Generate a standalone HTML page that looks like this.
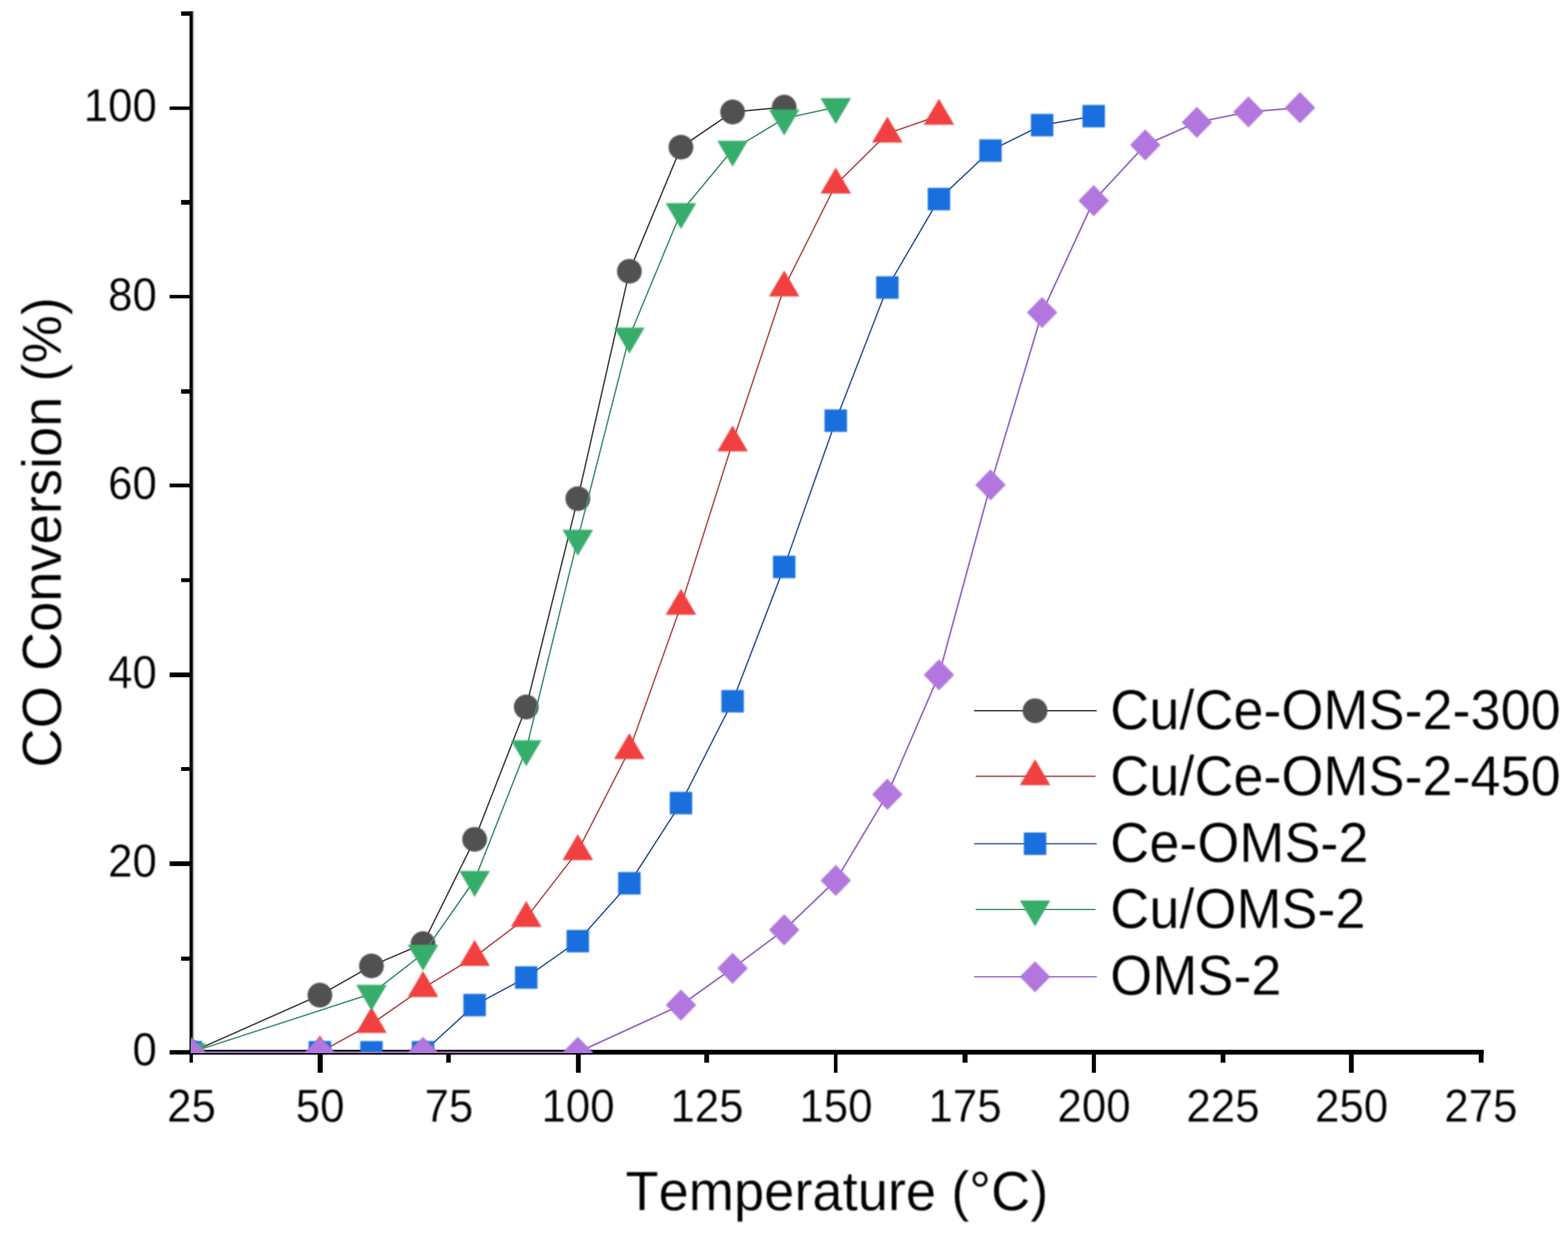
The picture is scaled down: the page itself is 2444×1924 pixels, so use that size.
<!DOCTYPE html>
<html lang="en"><head><meta charset="utf-8"><title>CO Conversion vs Temperature</title>
<style>
html,body{margin:0;padding:0;background:#fff;}
body{width:2444px;height:1924px;overflow:hidden;}
svg{display:block;}
text{font-family:"Liberation Sans",Arial,Helvetica,sans-serif;fill:#000;stroke:#fff;stroke-width:0.3px;paint-order:fill stroke;font-kerning:none;font-variant-ligatures:none;text-rendering:geometricPrecision;}
.soft{filter:blur(0.8px);}
.tick{font-size:70px;}
.big{font-size:84.6px;}
</style></head><body>
<svg width="2444" height="1924" viewBox="0 0 2444 1924">
<rect x="0" y="0" width="2444" height="1924" fill="#ffffff"/>
<defs><clipPath id="plot"><rect x="297.5" y="17.5" width="2011" height="1624.6"/></clipPath>
</defs>
<g id="chart">
<g id="axes" fill="#000">
<rect x="295.4" y="17.5" width="5.3" height="1639.3"/>
<rect x="300.7" y="17.5" width="2.1" height="1619.3" fill="#bdbdbd"/>
<rect x="295.4" y="1636.8" width="2017.2" height="7.5"/>
<rect x="264.4" y="1637.3" width="31.6" height="6.9"/>
<rect x="282.3" y="1491.5" width="13.7" height="6.4"/>
<rect x="264.4" y="1342.9" width="31.6" height="7.4"/>
<rect x="282.3" y="1196.0" width="13.7" height="5.9"/>
<rect x="264.4" y="1048.5" width="31.6" height="7.4"/>
<rect x="282.3" y="901.5" width="13.7" height="6.1"/>
<rect x="264.4" y="753.9" width="31.6" height="5.9"/>
<rect x="282.3" y="606.9" width="13.7" height="6.9"/>
<rect x="264.4" y="459.8" width="31.6" height="5.4"/>
<rect x="282.3" y="311.8" width="13.7" height="7.4"/>
<rect x="264.4" y="166.0" width="31.6" height="5.4"/>
<rect x="282.3" y="17.7" width="13.7" height="6.9"/>
<rect x="495.2" y="1640.0" width="7.8" height="32.6"/>
<rect x="695.5" y="1640.0" width="7.1" height="16.8"/>
<rect x="897.7" y="1640.0" width="7.5" height="32.6"/>
<rect x="1097.7" y="1640.0" width="7.5" height="16.8"/>
<rect x="1299.8" y="1640.0" width="5.6" height="32.6"/>
<rect x="1500.3" y="1640.0" width="7.8" height="16.8"/>
<rect x="1701.8" y="1640.0" width="6.4" height="32.6"/>
<rect x="1902.6" y="1640.0" width="7.4" height="16.8"/>
<rect x="2102.6" y="1640.0" width="7.4" height="32.6"/>
<rect x="2304.9" y="1640.0" width="7.5" height="16.8"/>
</g>
<g class="tick soft" text-anchor="end">
<text transform="translate(244.4 1661.3) scale(0.975 1.035)">0</text>
<text transform="translate(244.4 1366.9) scale(0.975 1.035)">20</text>
<text transform="translate(244.4 1072.5) scale(0.975 1.035)">40</text>
<text transform="translate(244.4 778.0) scale(0.975 1.035)">60</text>
<text transform="translate(244.4 483.6) scale(0.975 1.035)">80</text>
<text transform="translate(244.4 189.2) scale(0.975 1.035)">100</text>
</g>
<g class="tick soft" text-anchor="middle">
<text transform="translate(298.5 1749) scale(0.975 1.035)">25</text>
<text transform="translate(499.0 1749) scale(0.975 1.035)">50</text>
<text transform="translate(699.8 1749) scale(0.975 1.035)">75</text>
<text transform="translate(901.0 1749) scale(0.975 1.035)">100</text>
<text transform="translate(1102.0 1749) scale(0.975 1.035)">125</text>
<text transform="translate(1303.0 1749) scale(0.975 1.035)">150</text>
<text transform="translate(1504.2 1749) scale(0.975 1.035)">175</text>
<text transform="translate(1705.2 1749) scale(0.975 1.035)">200</text>
<text transform="translate(1906.3 1749) scale(0.975 1.035)">225</text>
<text transform="translate(2106.8 1749) scale(0.975 1.035)">250</text>
<text transform="translate(2308.3 1749) scale(0.975 1.035)">275</text>
</g>
<g class="soft">
<text class="big" text-anchor="middle" transform="translate(1304.4 1887.4) scale(1 1.025)">Temperature (°C)</text>
<text class="big" text-anchor="middle" transform="translate(94.6 830) rotate(-90) scale(1 1.02)">CO Conversion (%)</text>
</g>
<g id="data" clip-path="url(#plot)">
<g>
<polyline fill="none" stroke="#404040" stroke-width="2.2" stroke-linejoin="round" points="297.6,1640.7 498.6,1551.6 579.0,1506.0 659.4,1471.4 739.8,1308.7 820.2,1102.4 900.6,777.5 981.0,423.0 1061.4,229.5 1141.9,174.6 1222.3,167.1"/>
<g class="soft">
<circle cx="297.6" cy="1640.7" r="19.3" fill="#515151"/>
<circle cx="498.6" cy="1551.6" r="19.3" fill="#515151"/>
<circle cx="579.0" cy="1506.0" r="19.3" fill="#515151"/>
<circle cx="659.4" cy="1471.4" r="19.3" fill="#515151"/>
<circle cx="739.8" cy="1308.7" r="19.3" fill="#515151"/>
<circle cx="820.2" cy="1102.4" r="19.3" fill="#515151"/>
<circle cx="900.6" cy="777.5" r="19.3" fill="#515151"/>
<circle cx="981.0" cy="423.0" r="19.3" fill="#515151"/>
<circle cx="1061.4" cy="229.5" r="19.3" fill="#515151"/>
<circle cx="1141.9" cy="174.6" r="19.3" fill="#515151"/>
<circle cx="1222.3" cy="167.1" r="19.3" fill="#515151"/>
</g>
</g>
<g>
<polyline fill="none" stroke="#B04E4E" stroke-width="2.2" stroke-linejoin="round" points="498.6,1640.7 579.0,1596.5 659.4,1540.6 739.8,1492.0 820.2,1431.2 900.6,1327.1 981.0,1169.6 1061.4,944.4 1141.9,689.7 1222.3,448.3 1302.7,287.8 1383.1,208.3 1463.5,180.4"/>
<g class="soft">
<polygon points="498.6,1614.2 522.4,1654.7 474.8,1654.7" fill="#F14040"/>
<polygon points="579.0,1570.0 602.8,1610.5 555.2,1610.5" fill="#F14040"/>
<polygon points="659.4,1514.1 683.2,1554.6 635.6,1554.6" fill="#F14040"/>
<polygon points="739.8,1465.5 763.6,1506.0 716.0,1506.0" fill="#F14040"/>
<polygon points="820.2,1404.7 844.0,1445.2 796.4,1445.2" fill="#F14040"/>
<polygon points="900.6,1300.6 924.4,1341.1 876.8,1341.1" fill="#F14040"/>
<polygon points="981.0,1143.1 1004.8,1183.6 957.2,1183.6" fill="#F14040"/>
<polygon points="1061.4,917.9 1085.2,958.4 1037.6,958.4" fill="#F14040"/>
<polygon points="1141.9,663.2 1165.7,703.7 1118.1,703.7" fill="#F14040"/>
<polygon points="1222.3,421.8 1246.1,462.3 1198.5,462.3" fill="#F14040"/>
<polygon points="1302.7,261.3 1326.5,301.8 1278.9,301.8" fill="#F14040"/>
<polygon points="1383.1,181.8 1406.9,222.3 1359.3,222.3" fill="#F14040"/>
<polygon points="1463.5,153.9 1487.3,194.4 1439.7,194.4" fill="#F14040"/>
</g>
</g>
<g>
<polyline fill="none" stroke="#33589A" stroke-width="2.2" stroke-linejoin="round" points="297.6,1640.7 498.6,1640.7 579.0,1640.7 659.4,1640.7 739.8,1567.1 820.2,1524.1 900.6,1467.4 981.0,1377.2 1061.4,1252.1 1141.9,1093.4 1222.3,884.0 1302.7,655.9 1383.1,448.3 1463.5,310.4 1543.9,234.8 1624.3,195.1 1704.7,181.1"/>
<g class="soft">
<rect x="280.1" y="1623.2" width="35.0" height="35.0" fill="#1A6FDF"/>
<rect x="481.1" y="1623.2" width="35.0" height="35.0" fill="#1A6FDF"/>
<rect x="561.5" y="1623.2" width="35.0" height="35.0" fill="#1A6FDF"/>
<rect x="641.9" y="1623.2" width="35.0" height="35.0" fill="#1A6FDF"/>
<rect x="722.3" y="1549.6" width="35.0" height="35.0" fill="#1A6FDF"/>
<rect x="802.7" y="1506.6" width="35.0" height="35.0" fill="#1A6FDF"/>
<rect x="883.1" y="1449.9" width="35.0" height="35.0" fill="#1A6FDF"/>
<rect x="963.5" y="1359.7" width="35.0" height="35.0" fill="#1A6FDF"/>
<rect x="1043.9" y="1234.6" width="35.0" height="35.0" fill="#1A6FDF"/>
<rect x="1124.4" y="1075.9" width="35.0" height="35.0" fill="#1A6FDF"/>
<rect x="1204.8" y="866.5" width="35.0" height="35.0" fill="#1A6FDF"/>
<rect x="1285.2" y="638.4" width="35.0" height="35.0" fill="#1A6FDF"/>
<rect x="1365.6" y="430.8" width="35.0" height="35.0" fill="#1A6FDF"/>
<rect x="1446.0" y="292.9" width="35.0" height="35.0" fill="#1A6FDF"/>
<rect x="1526.4" y="217.3" width="35.0" height="35.0" fill="#1A6FDF"/>
<rect x="1606.8" y="177.6" width="35.0" height="35.0" fill="#1A6FDF"/>
<rect x="1687.2" y="163.6" width="35.0" height="35.0" fill="#1A6FDF"/>
</g>
</g>
<g>
<polyline fill="none" stroke="#44906A" stroke-width="2.2" stroke-linejoin="round" points="297.6,1640.7 579.0,1549.4 659.4,1486.9 739.8,1372.0 820.2,1168.2 900.6,839.9 981.0,524.8 1061.4,330.8 1141.9,233.4 1222.3,184.8 1302.7,167.1"/>
<g class="soft">
<polygon points="297.6,1667.2 321.4,1626.7 273.8,1626.7" fill="#37AD6B"/>
<polygon points="579.0,1575.9 602.8,1535.4 555.2,1535.4" fill="#37AD6B"/>
<polygon points="659.4,1513.4 683.2,1472.9 635.6,1472.9" fill="#37AD6B"/>
<polygon points="739.8,1398.5 763.6,1358.0 716.0,1358.0" fill="#37AD6B"/>
<polygon points="820.2,1194.7 844.0,1154.2 796.4,1154.2" fill="#37AD6B"/>
<polygon points="900.6,866.4 924.4,825.9 876.8,825.9" fill="#37AD6B"/>
<polygon points="981.0,551.3 1004.8,510.8 957.2,510.8" fill="#37AD6B"/>
<polygon points="1061.4,357.3 1085.2,316.8 1037.6,316.8" fill="#37AD6B"/>
<polygon points="1141.9,259.9 1165.7,219.4 1118.1,219.4" fill="#37AD6B"/>
<polygon points="1222.3,211.3 1246.1,170.8 1198.5,170.8" fill="#37AD6B"/>
<polygon points="1302.7,193.6 1326.5,153.1 1278.9,153.1" fill="#37AD6B"/>
</g>
</g>
<g>
<polyline fill="none" stroke="#9A70C4" stroke-width="2.6" stroke-linejoin="round" points="297.6,1640.7 498.6,1640.7 659.4,1640.7 900.6,1640.7 1061.4,1567.1 1141.9,1509.7 1222.3,1449.8 1302.7,1372.8 1383.1,1238.4 1463.5,1052.2 1543.9,756.0 1624.3,487.3 1704.7,312.9 1785.1,226.0 1865.5,190.7 1945.9,174.5 2026.3,167.9"/>
<g class="soft">
<polygon points="297.6,1616.4 321.3,1640.7 297.6,1665.0 273.9,1640.7" fill="#B177DE"/>
<polygon points="498.6,1616.4 522.3,1640.7 498.6,1665.0 474.9,1640.7" fill="#B177DE"/>
<polygon points="659.4,1616.4 683.1,1640.7 659.4,1665.0 635.7,1640.7" fill="#B177DE"/>
<polygon points="900.6,1616.4 924.3,1640.7 900.6,1665.0 876.9,1640.7" fill="#B177DE"/>
<polygon points="1061.4,1542.8 1085.1,1567.1 1061.4,1591.4 1037.7,1567.1" fill="#B177DE"/>
<polygon points="1141.9,1485.4 1165.6,1509.7 1141.9,1534.0 1118.2,1509.7" fill="#B177DE"/>
<polygon points="1222.3,1425.5 1246.0,1449.8 1222.3,1474.1 1198.6,1449.8" fill="#B177DE"/>
<polygon points="1302.7,1348.5 1326.4,1372.8 1302.7,1397.1 1279.0,1372.8" fill="#B177DE"/>
<polygon points="1383.1,1214.1 1406.8,1238.4 1383.1,1262.7 1359.4,1238.4" fill="#B177DE"/>
<polygon points="1463.5,1027.9 1487.2,1052.2 1463.5,1076.5 1439.8,1052.2" fill="#B177DE"/>
<polygon points="1543.9,731.7 1567.6,756.0 1543.9,780.3 1520.2,756.0" fill="#B177DE"/>
<polygon points="1624.3,463.0 1648.0,487.3 1624.3,511.6 1600.6,487.3" fill="#B177DE"/>
<polygon points="1704.7,288.6 1728.4,312.9 1704.7,337.2 1681.0,312.9" fill="#B177DE"/>
<polygon points="1785.1,201.7 1808.8,226.0 1785.1,250.3 1761.4,226.0" fill="#B177DE"/>
<polygon points="1865.5,166.4 1889.2,190.7 1865.5,215.0 1841.8,190.7" fill="#B177DE"/>
<polygon points="1945.9,150.2 1969.6,174.5 1945.9,198.8 1922.2,174.5" fill="#B177DE"/>
<polygon points="2026.3,143.6 2050.0,167.9 2026.3,192.2 2002.6,167.9" fill="#B177DE"/>
</g>
</g>
</g>
<g id="legend">
<line x1="1518.4" y1="1108.2" x2="1709.6" y2="1108.2" stroke="#404040" stroke-width="2.2"/>
<line x1="1520.7" y1="1210.3" x2="1707.6" y2="1210.3" stroke="#B04E4E" stroke-width="2.2"/>
<line x1="1518.4" y1="1315.5" x2="1709.6" y2="1315.5" stroke="#33589A" stroke-width="2.2"/>
<line x1="1520.7" y1="1418.0" x2="1707.6" y2="1418.0" stroke="#44906A" stroke-width="2.2"/>
<line x1="1518.4" y1="1523.0" x2="1709.6" y2="1523.0" stroke="#9A70C4" stroke-width="2.2"/>
<g class="soft">
<circle cx="1613.3" cy="1108.2" r="19.3" fill="#515151"/>
<polygon points="1613.3,1183.8 1637.1,1224.3 1589.5,1224.3" fill="#F14040"/>
<rect x="1595.8" y="1298.0" width="35.0" height="35.0" fill="#1A6FDF"/>
<polygon points="1613.3,1444.5 1637.1,1404.0 1589.5,1404.0" fill="#37AD6B"/>
<polygon points="1613.3,1498.7 1637.0,1523.0 1613.3,1547.3 1589.6,1523.0" fill="#B177DE"/>
<text class="big" transform="translate(1730.6 1136.7) scale(0.9955 1.04)">Cu/Ce-OMS-2-300</text>
<text class="big" transform="translate(1730.6 1240.2) scale(0.9955 1.04)">Cu/Ce-OMS-2-450</text>
<text class="big" transform="translate(1730.6 1343.6) scale(0.9955 1.04)">Ce-OMS-2</text>
<text class="big" transform="translate(1730.6 1447.1) scale(0.9955 1.04)">Cu/OMS-2</text>
<text class="big" transform="translate(1730.6 1550.5) scale(0.9955 1.04)">OMS-2</text>
</g>
</g>
</g>
</svg>
</body></html>
